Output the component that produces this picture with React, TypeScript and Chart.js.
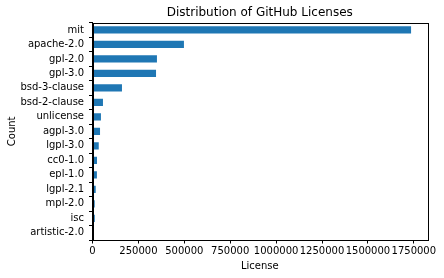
import React, { useEffect, useRef } from "react";
import { Chart, registerables } from "chart.js";

Chart.register(...registerables);

const licenses = [
  "mit", "apache-2.0", "gpl-2.0", "gpl-3.0", "bsd-3-clause", "bsd-2-clause",
  "unlicense", "agpl-3.0", "lgpl-3.0", "cc0-1.0", "epl-1.0", "lgpl-2.1",
  "mpl-2.0", "isc", "artistic-2.0",
];
const counts = [
  1735000, 498000, 351000, 346000, 160500, 57000,
  46000, 41000, 34000, 24500, 24000, 17500,
  12000, 12500, 6500,
];
const xTicks = [0, 250000, 500000, 750000, 1000000, 1250000, 1500000, 1750000];
const titleText = "Distribution of GitHub Licenses";
const xTitle = "License";
const yTitle = "Count";

const FONT = "'DejaVu Sans', sans-serif";
const TEXT = "#000";

const frame = {
  id: "frame",
  afterDatasetsDraw(chart: any) {
    const { ctx, chartArea: a } = chart;
    ctx.save();
    ctx.strokeStyle = "#000";
    ctx.lineWidth = 1;
    ctx.strokeRect(Math.round(a.left) + 0.5, Math.round(a.top) + 0.5, Math.round(a.right - a.left), Math.round(a.bottom - a.top));
    ctx.restore();
  },
};

export default function App() {
  const ref = useRef<HTMLCanvasElement>(null);
  useEffect(() => {
    if (!ref.current) return;
    const maxV = Math.max(...counts) * 1.05;
    const chart = new Chart(ref.current, {
      type: "bar",
      data: {
        labels: licenses,
        datasets: [
          {
            data: counts,
            backgroundColor: "#1f77b4",
            borderWidth: 0,
            categoryPercentage: 1,
            barPercentage: 0.5,
          },
        ],
      },
      plugins: [frame],
      options: {
        indexAxis: "y",
        responsive: false,
        animation: false,
        devicePixelRatio: 1,
        layout: { padding: { left: 0, right: 17, top: 0, bottom: 0 } },
        plugins: {
          legend: { display: false },
          tooltip: { enabled: false },
          title: {
            display: true,
            fullSize: false,
            text: titleText,
            color: TEXT,
            font: { family: FONT, size: 12, weight: "normal" },
            padding: { top: 6, bottom: 2.3 },
          },
        },
        scales: {
          x: {
            type: "linear",
            min: 0,
            max: maxV,
            grid: { display: true, drawOnChartArea: false, drawTicks: true, tickLength: 3.5, color: "#000" },
            border: { display: true, color: "#000" },
            afterBuildTicks: (s: any) => { s.ticks = xTicks.map((v) => ({ value: v })); },
            ticks: {
              color: TEXT,
              padding: 2,
              maxRotation: 0,
              autoSkip: false,
              font: { family: FONT, size: 10 },
              callback: (v: any) => String(v),
            },
            title: {
              display: true,
              text: xTitle,
              color: TEXT,
              font: { family: FONT, size: 10 },
              padding: { top: 2, bottom: 6 },
            },
            afterFit: (s: any) => { s.height = 38; },
          },
          y: {
            grid: { display: true, drawOnChartArea: false, drawTicks: true, tickLength: 3.5, color: "#000" },
            border: { display: true, color: "#000" },
            ticks: {
              color: TEXT,
              padding: 5,
              autoSkip: false,
              font: { family: FONT, size: 10 },
            },
            title: {
              display: true,
              text: yTitle,
              color: TEXT,
              font: { family: FONT, size: 10 },
              padding: { top: 6, bottom: 0 },
            },
            afterFit: (s: any) => { s.width = 92.5; },
          },
        },
      },
    } as any);
    return () => chart.destroy();
  }, []);
  return (
    <div style={{ position: "absolute", left: 0, top: 0, width: 444, height: 278, background: "#fff" }}>
      <canvas ref={ref} width={444} height={278} style={{ width: 444, height: 278 }} />
    </div>
  );
}
